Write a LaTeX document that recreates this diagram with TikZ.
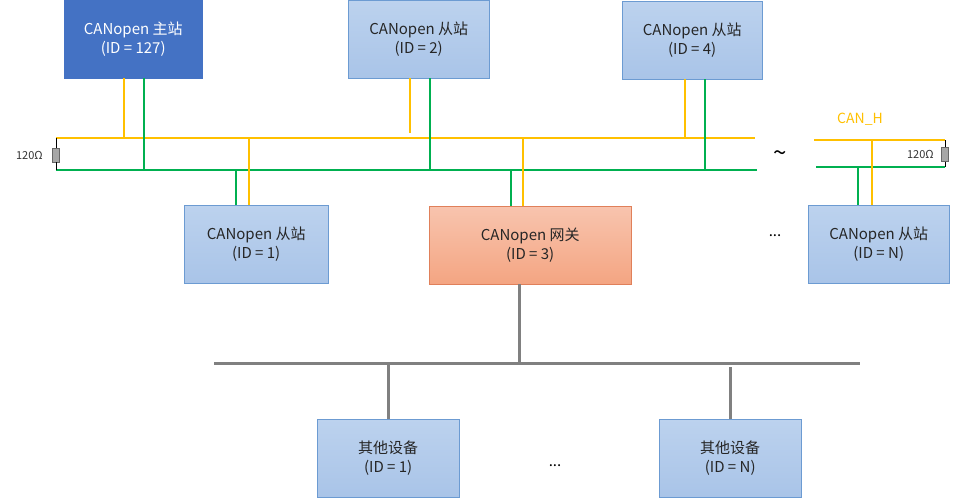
\documentclass[tikz,border=0pt]{standalone}
\usepackage{fontspec}
\setmainfont{Noto Sans CJK SC}
\usetikzlibrary{positioning,calc}
\definecolor{boxblue}{HTML}{A9C4E8}
\definecolor{boxtop}{HTML}{BCD2EE}
\definecolor{boxline}{HTML}{6C9BD2}
\definecolor{master}{HTML}{4472C4}
\definecolor{gwtop}{HTML}{F8C4AE}
\definecolor{gwbot}{HTML}{F4A582}
\definecolor{gwline}{HTML}{E0805A}
\definecolor{canh}{HTML}{FFC000}
\definecolor{canl}{HTML}{00B050}
\definecolor{eth}{HTML}{808080}
\tikzset{
  slave/.style={draw=boxline, top color=boxtop, bottom color=boxblue, align=center,
    minimum height=78pt, font=\fontsize{15}{19}\selectfont, text=black!85, inner sep=0pt},
  busH/.style={canh, line width=2.4pt},
  busL/.style={canl, line width=2.4pt},
  lan/.style={eth, line width=3pt},
  res/.style={draw=black!60, fill=black!35, minimum width=7pt, minimum height=14pt, inner sep=0pt},
}
\begin{document}
\begin{tikzpicture}[x=1pt,y=-1pt]
    % Frame
    \useasboundingbox (0,0) rectangle (959,499);

    % Stations
    \node[slave, fill=master, top color=master, bottom color=master, draw=master, text=white,
      minimum width=138pt, anchor=north west] (mst) at (64,0) {CANopen 主站\\(ID = 127)};
    \node[slave, minimum width=141pt, anchor=north west] (s2) at (348,0) {CANopen 从站\\(ID = 2)};
    \node[slave, minimum width=140pt, anchor=north west] (s4) at (622,1) {CANopen 从站\\(ID = 4)};
    \node[slave, minimum width=144pt, anchor=north west] (s1) at (184,205) {CANopen 从站\\(ID = 1)};
    \node[slave, draw=gwline, top color=gwtop, bottom color=gwbot, minimum width=202pt,
      anchor=north west] (gw) at (429,206) {CANopen 网关\\(ID = 3)};
    \node[slave, minimum width=141pt, anchor=north west] (sN) at (808,205) {CANopen 从站\\(ID = N)};
    \node[slave, minimum width=142pt, anchor=north west] (d1) at (317,419) {其他设备\\(ID = 1)};
    \node[slave, minimum width=142pt, anchor=north west] (dN) at (659,419) {其他设备\\(ID = N)};

    % Bus ends
    \coordinate (hL) at (56,138);  \coordinate (hR) at (755,138);
    \coordinate (lL) at (56,170);  \coordinate (lR) at (757,170);
    \coordinate (hL2) at (814,140); \coordinate (hR2) at (945,140);
    \coordinate (lL2) at (816,167); \coordinate (lR2) at (945,167);

    % CAN bus
    \draw[busH] (hL) -- (hR);
    \draw[busL] (lL) -- (lR);
    \draw[busH] (hL2) -- (hR2);
    \draw[busL] (lL2) -- (lR2);

    % Terminators
    \node[res] (r1) at (56,155) {};
    \draw[black, thin] (hL) -- (r1.north) (r1.south) -- (lL);
    \node[left=6pt of r1, font=\fontsize{11}{13}\selectfont, text=black!80] (r1t) {120Ω};
    \node[res] (r2) at (945,154.5) {};
    \draw[black, thin] (hR2) -- (r2.north) (r2.south) -- (lR2);
    \node[left=4pt of r2, font=\fontsize{11}{13}\selectfont, text=black!80] (r2t) {120Ω};

    % Drops to the bus
    \draw[busH] ($(mst.south west)+(60,0)$) -- ++(0,60);
    \draw[busL] ($(mst.south west)+(80,0)$) -- ++(0,92);
    \draw[busH] ($(s2.south west)+(62,0)$) -- ++(0,55);
    \draw[busL] ($(s2.south west)+(82,0)$) -- ++(0,91);
    \draw[busH] ($(s4.south west)+(63,0)$) -- ++(0,58);
    \draw[busL] ($(s4.south west)+(83,0)$) -- ++(0,90);
    \draw[busL] ($(s1.north west)+(52,0)$) -- ++(0,-35);
    \draw[busH] ($(s1.north west)+(65,0)$) -- ++(0,-67);
    \draw[busL] ($(gw.north west)+(82,0)$) -- ++(0,-36);
    \draw[busH] ($(gw.north west)+(94,0)$) -- ++(0,-68);
    \draw[busL] ($(sN.north west)+(50,0)$) -- ++(0,-38);
    \draw[busH] ($(sN.north west)+(64,0)$) -- ++(0,-65);

    % Field network
    \coordinate (nL) at (214,363); \coordinate (nR) at (860,363);
    \draw[lan] (nL) -- (nR);
    \draw[lan] ($(gw.south west)+(90,0)$) -- ++(0,80);
    \draw[lan] ($(d1.north west)+(71,0)$) -- ++(0,-56);
    \draw[lan] ($(dN.north west)+(71,0)$) -- ++(0,-52);

    % Labels
    \node[font=\fontsize{14}{16}\selectfont, text=canh] (canhl) at (860,119) {CAN\_H};
    \node[font=\fontsize{24}{24}\selectfont] (gap) at (780,156) {\textasciitilde};
    \node[font=\fontsize{15}{16}\selectfont] (dots1) at (775,236) {...};
    \node[font=\fontsize{15}{16}\selectfont] (dots2) at (555,466) {...};
\end{tikzpicture}
\end{document}
